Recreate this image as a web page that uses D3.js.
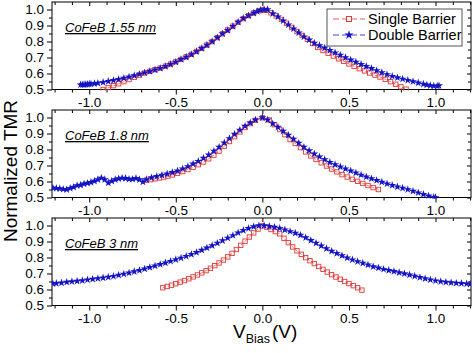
<!DOCTYPE html>
<html><head><meta charset="utf-8">
<script src="https://cdn.jsdelivr.net/npm/d3@7"></script>
<style>body{margin:0;background:#fff}svg{display:block}text{font-family:"Liberation Sans",Arial,sans-serif}</style>
</head><body><svg id="c" width="474" height="353"></svg>
<script>
// ---------- data: [bias V, normalized TMR] ----------
const panelLabels = ["CoFeB 1.55 nm", "CoFeB 1.8 nm", "CoFeB 3 nm"];
const seriesNames = ["Single Barrier", "Double Barrier"];
const xMajorTicks = [-1.0, -0.5, 0.0, 0.5, 1.0];
const xMinorTicks = [-1.2,-1.1,-0.9,-0.8,-0.7,-0.6,-0.4,-0.3,-0.2,-0.1,0.1,0.2,0.3,0.4,0.6,0.7,0.8,0.9,1.1,1.2];
const yMajorTicks = [0.5, 0.6, 0.7, 0.8, 0.9, 1.0];
const yMinorTicks = [0.55, 0.65, 0.75, 0.85, 0.95];

const single155 = [[-0.92,0.500],[-0.89,0.512],[-0.86,0.524],[-0.83,0.536],[-0.80,0.549],[-0.77,0.562],[-0.74,0.576],[-0.71,0.590],[-0.68,0.603],[-0.65,0.614],[-0.62,0.624],[-0.59,0.634],[-0.56,0.646],[-0.53,0.659],[-0.50,0.673],[-0.47,0.688],[-0.44,0.704],[-0.41,0.720],[-0.38,0.738],[-0.35,0.757],[-0.32,0.778],[-0.29,0.800],[-0.26,0.824],[-0.23,0.848],[-0.20,0.872],[-0.17,0.896],[-0.14,0.920],[-0.11,0.943],[-0.08,0.962],[-0.05,0.978],[-0.02,0.992],[0.00,0.998],[0.02,0.995],[0.05,0.980],[0.08,0.960],[0.11,0.938],[0.14,0.914],[0.17,0.888],[0.20,0.862],[0.23,0.838],[0.26,0.814],[0.29,0.788],[0.32,0.763],[0.35,0.744],[0.38,0.726],[0.41,0.709],[0.44,0.692],[0.47,0.676],[0.50,0.660],[0.53,0.645],[0.56,0.630],[0.59,0.616],[0.62,0.603],[0.65,0.590],[0.68,0.578],[0.71,0.564],[0.74,0.549],[0.77,0.533],[0.80,0.517],[0.83,0.502]];
const double155 = [[-1.05,0.530],[-1.04,0.530],[-1.03,0.531],[-1.02,0.532],[-1.01,0.533],[-1.00,0.534],[-0.99,0.535],[-0.97,0.537],[-0.95,0.540],[-0.92,0.545],[-0.89,0.551],[-0.86,0.557],[-0.83,0.564],[-0.80,0.571],[-0.77,0.579],[-0.74,0.587],[-0.71,0.596],[-0.68,0.605],[-0.65,0.614],[-0.62,0.623],[-0.59,0.633],[-0.56,0.645],[-0.53,0.658],[-0.50,0.672],[-0.47,0.688],[-0.44,0.703],[-0.41,0.719],[-0.38,0.737],[-0.35,0.757],[-0.32,0.778],[-0.29,0.800],[-0.26,0.824],[-0.23,0.849],[-0.20,0.870],[-0.17,0.895],[-0.14,0.922],[-0.11,0.945],[-0.08,0.962],[-0.05,0.978],[-0.03,0.988],[-0.01,0.996],[0.01,1.000],[0.03,1.000],[0.06,0.975],[0.09,0.955],[0.12,0.930],[0.15,0.905],[0.18,0.880],[0.21,0.855],[0.24,0.830],[0.27,0.810],[0.30,0.790],[0.33,0.775],[0.36,0.760],[0.39,0.745],[0.42,0.730],[0.45,0.715],[0.48,0.700],[0.51,0.685],[0.54,0.672],[0.57,0.658],[0.60,0.645],[0.63,0.632],[0.66,0.618],[0.69,0.606],[0.72,0.594],[0.75,0.583],[0.78,0.574],[0.81,0.566],[0.84,0.558],[0.87,0.550],[0.90,0.542],[0.93,0.534],[0.95,0.529],[0.97,0.525],[0.99,0.522],[1.01,0.522],[1.02,0.524]];

const single18 = [[-0.67,0.608],[-0.645,0.612],[-0.62,0.617],[-0.595,0.622],[-0.57,0.628],[-0.545,0.634],[-0.52,0.641],[-0.49,0.651],[-0.46,0.662],[-0.43,0.675],[-0.40,0.689],[-0.37,0.705],[-0.34,0.722],[-0.31,0.742],[-0.28,0.765],[-0.25,0.790],[-0.22,0.820],[-0.19,0.850],[-0.16,0.880],[-0.13,0.910],[-0.10,0.938],[-0.07,0.962],[-0.04,0.982],[0.00,0.998],[0.04,0.985],[0.07,0.955],[0.10,0.925],[0.13,0.893],[0.16,0.862],[0.19,0.838],[0.22,0.812],[0.25,0.785],[0.28,0.760],[0.31,0.738],[0.34,0.717],[0.37,0.697],[0.40,0.678],[0.43,0.660],[0.46,0.643],[0.49,0.628],[0.52,0.614],[0.55,0.601],[0.58,0.588],[0.61,0.575],[0.64,0.562],[0.67,0.550]];
const double18 = [[-1.21,0.560],[-1.19,0.558],[-1.17,0.556],[-1.15,0.552],[-1.13,0.550],[-1.11,0.558],[-1.09,0.565],[-1.07,0.575],[-1.05,0.578],[-1.03,0.585],[-1.01,0.590],[-0.99,0.595],[-0.97,0.603],[-0.95,0.612],[-0.93,0.622],[-0.91,0.612],[-0.89,0.592],[-0.87,0.603],[-0.85,0.612],[-0.83,0.618],[-0.81,0.622],[-0.79,0.620],[-0.77,0.615],[-0.75,0.615],[-0.73,0.620],[-0.71,0.612],[-0.69,0.598],[-0.67,0.612],[-0.64,0.624],[-0.61,0.632],[-0.58,0.640],[-0.55,0.648],[-0.52,0.657],[-0.49,0.667],[-0.46,0.680],[-0.43,0.694],[-0.40,0.710],[-0.37,0.727],[-0.34,0.746],[-0.31,0.767],[-0.28,0.790],[-0.25,0.815],[-0.22,0.842],[-0.19,0.869],[-0.16,0.896],[-0.13,0.922],[-0.10,0.946],[-0.07,0.967],[-0.04,0.985],[0.00,1.000],[0.03,0.985],[0.06,0.962],[0.09,0.940],[0.12,0.915],[0.15,0.890],[0.18,0.865],[0.21,0.840],[0.24,0.815],[0.27,0.793],[0.30,0.773],[0.33,0.755],[0.36,0.737],[0.39,0.720],[0.42,0.706],[0.45,0.692],[0.48,0.679],[0.51,0.667],[0.54,0.654],[0.57,0.641],[0.60,0.629],[0.63,0.618],[0.66,0.607],[0.69,0.597],[0.72,0.586],[0.75,0.576],[0.78,0.567],[0.81,0.559],[0.84,0.550],[0.87,0.540],[0.90,0.530],[0.93,0.520],[0.96,0.510],[0.99,0.502],[1.00,0.500]];

const single3 = [[-0.575,0.611],[-0.55,0.619],[-0.525,0.627],[-0.50,0.636],[-0.475,0.646],[-0.45,0.656],[-0.425,0.667],[-0.40,0.679],[-0.375,0.691],[-0.35,0.704],[-0.325,0.718],[-0.30,0.733],[-0.275,0.749],[-0.25,0.766],[-0.225,0.784],[-0.20,0.804],[-0.175,0.826],[-0.15,0.850],[-0.125,0.876],[-0.10,0.902],[-0.075,0.928],[-0.05,0.954],[-0.025,0.978],[0.00,0.998],[0.025,0.990],[0.05,0.975],[0.075,0.962],[0.10,0.948],[0.125,0.920],[0.15,0.893],[0.175,0.866],[0.20,0.842],[0.225,0.820],[0.25,0.799],[0.275,0.780],[0.30,0.762],[0.325,0.744],[0.35,0.726],[0.375,0.709],[0.40,0.693],[0.425,0.678],[0.45,0.664],[0.475,0.650],[0.50,0.637],[0.525,0.624],[0.55,0.611],[0.575,0.596]];
const double3 = [[-1.21,0.637],[-1.19,0.639],[-1.16,0.642],[-1.13,0.646],[-1.10,0.650],[-1.07,0.653],[-1.04,0.656],[-1.01,0.661],[-0.98,0.665],[-0.95,0.669],[-0.92,0.673],[-0.89,0.678],[-0.86,0.683],[-0.83,0.690],[-0.80,0.697],[-0.77,0.704],[-0.74,0.712],[-0.71,0.720],[-0.68,0.729],[-0.65,0.738],[-0.62,0.748],[-0.59,0.757],[-0.56,0.767],[-0.53,0.777],[-0.50,0.787],[-0.47,0.797],[-0.44,0.808],[-0.41,0.820],[-0.38,0.832],[-0.35,0.846],[-0.32,0.860],[-0.29,0.875],[-0.26,0.890],[-0.23,0.906],[-0.20,0.922],[-0.17,0.938],[-0.14,0.955],[-0.11,0.970],[-0.08,0.982],[-0.05,0.993],[-0.02,0.999],[0.01,1.000],[0.04,0.995],[0.07,0.990],[0.10,0.983],[0.13,0.973],[0.16,0.963],[0.19,0.953],[0.22,0.940],[0.25,0.924],[0.28,0.907],[0.31,0.890],[0.34,0.873],[0.37,0.856],[0.40,0.840],[0.43,0.826],[0.46,0.812],[0.49,0.798],[0.52,0.786],[0.55,0.775],[0.58,0.765],[0.61,0.754],[0.64,0.743],[0.67,0.735],[0.70,0.727],[0.73,0.720],[0.76,0.713],[0.79,0.706],[0.82,0.699],[0.85,0.692],[0.88,0.684],[0.91,0.676],[0.94,0.668],[0.97,0.661],[1.00,0.655],[1.03,0.650],[1.06,0.646],[1.09,0.643],[1.12,0.640],[1.15,0.638],[1.18,0.636],[1.20,0.634]];

// ---------- layout ----------
const svg = d3.select("#c");
const left = 52, right = 471;
const panelTops = [2, 110, 218];
const panelH = 87.5;
const red = "#dd3b3b", blue = "#1414c4";

const x = d3.scaleLinear().domain([-1.215, 1.205]).range([left, right]);
const fmt = d => d.toFixed(1);

const panels = [
  {label: panelLabels[0], single: single155, dbl: double155},
  {label: panelLabels[1], single: single18, dbl: double18},
  {label: panelLabels[2], single: single3, dbl: double3}
];

const star = d3.symbol().type(d3.symbolStar).size(20);

panels.forEach((p, i) => {
  const top = panelTops[i], bot = top + panelH;
  const y = d3.scaleLinear().domain([0.5, 1.047]).range([bot, top]);
  const g = svg.append("g");
  const clipId = "clip" + i;
  svg.append("clipPath").attr("id", clipId).append("rect")
    .attr("x", left).attr("y", top).attr("width", right - left).attr("height", panelH + 1);

  const axStyle = sel => {
    sel.select(".domain").remove();
    sel.selectAll("line").attr("stroke", "#000").attr("stroke-width", 1);
    sel.selectAll("text").attr("font-size", 13.5).attr("fill", "#000")
       .attr("font-family", "'Liberation Sans', Arial, sans-serif");
  };
  // bottom axis
  g.append("g").attr("transform", `translate(0,${bot})`)
    .call(d3.axisBottom(x).tickValues(xMajorTicks).tickSize(5).tickPadding(3).tickFormat(fmt)).call(axStyle);
  g.append("g").attr("transform", `translate(0,${bot})`)
    .call(d3.axisBottom(x).tickValues(xMinorTicks).tickSize(3).tickFormat("")).call(axStyle);
  // top axis (inward)
  g.append("g").attr("transform", `translate(0,${top})`)
    .call(d3.axisTop(x).tickValues(xMajorTicks).tickSize(-4).tickFormat("")).call(axStyle);
  g.append("g").attr("transform", `translate(0,${top})`)
    .call(d3.axisTop(x).tickValues(xMinorTicks).tickSize(-3).tickFormat("")).call(axStyle);
  // left axis
  g.append("g").attr("transform", `translate(${left},0)`)
    .call(d3.axisLeft(y).tickValues(yMajorTicks).tickSize(5).tickPadding(3).tickFormat(fmt)).call(axStyle);
  g.append("g").attr("transform", `translate(${left},0)`)
    .call(d3.axisLeft(y).tickValues(yMinorTicks).tickSize(3).tickFormat("")).call(axStyle);
  // right axis (inward)
  g.append("g").attr("transform", `translate(${right},0)`)
    .call(d3.axisRight(y).tickValues(yMajorTicks).tickSize(-4).tickFormat("")).call(axStyle);
  g.append("g").attr("transform", `translate(${right},0)`)
    .call(d3.axisRight(y).tickValues(yMinorTicks).tickSize(-3).tickFormat("")).call(axStyle);

  // frame
  g.append("rect").attr("x", left).attr("y", top).attr("width", right - left).attr("height", panelH)
    .attr("fill", "none").attr("stroke", "#000").attr("stroke-width", 1);

  const line = d3.line().x(d => x(d[0])).y(d => y(d[1]));
  const plot = g.append("g").attr("clip-path", `url(#${clipId})`);

  plot.append("path").datum(p.single).attr("d", line).attr("fill", "none")
    .attr("stroke", red).attr("stroke-width", 0.7).attr("stroke-dasharray", "3,2");
  plot.append("path").datum(p.dbl).attr("d", line).attr("fill", "none")
    .attr("stroke", blue).attr("stroke-width", 0.7).attr("stroke-dasharray", "3,2");

  plot.selectAll(".sq").data(p.single).enter().append("rect")
    .attr("x", d => x(d[0]) - 2.2).attr("y", d => y(d[1]) - 2.2).attr("width", 4.4).attr("height", 4.4)
    .attr("fill", "none").attr("stroke", red).attr("stroke-width", 0.9);
  plot.selectAll(".st").data(p.dbl).enter().append("path")
    .attr("d", star).attr("transform", d => `translate(${x(d[0])},${y(d[1])})`)
    .attr("fill", blue);

  // panel label (italic, underlined)
  g.append("text").attr("x", 65).attr("y", top + 30)
    .attr("font-size", 13).attr("font-style", "italic")
    .attr("text-decoration", "underline").text(p.label);

  if (i === 0) {
    const lg = g.append("g");
    lg.append("rect").attr("x", 327).attr("y", 9).attr("width", 135).attr("height", 37)
      .attr("fill", "#fff").attr("stroke", "#555").attr("stroke-width", 1);
    const rows = [{name: seriesNames[0], c: red, k: "sq", yy: 19}, {name: seriesNames[1], c: blue, k: "st", yy: 35}];
    rows.forEach(r => {
      lg.append("line").attr("x1", 333).attr("x2", 365).attr("y1", r.yy).attr("y2", r.yy)
        .attr("stroke", r.c).attr("stroke-width", 0.8).attr("stroke-dasharray", "6,3");
      if (r.k === "sq") {
        lg.append("rect").attr("x", 346.5).attr("y", r.yy - 2.5).attr("width", 5).attr("height", 5)
          .attr("fill", "#fff").attr("stroke", r.c).attr("stroke-width", 1);
      } else {
        lg.append("path").attr("d", d3.symbol().type(d3.symbolStar).size(26)())
          .attr("transform", `translate(349,${r.yy})`).attr("fill", r.c);
      }
      lg.append("text").attr("x", 368).attr("y", r.yy + 5).attr("font-size", 14.5).text(r.name);
    });
  }
});

// axis titles
svg.append("text").attr("transform", "translate(17,171) rotate(-90)")
  .attr("text-anchor", "middle").attr("font-size", 19).text("Normalized TMR");

const xt = svg.append("text").attr("x", 233).attr("y", 338).attr("font-size", 19);
xt.append("tspan").text("V");
xt.append("tspan").attr("font-size", 12.5).attr("dy", 5).text("Bias");
xt.append("tspan").attr("dy", -5).attr("dx", 2).text("(V)");
</script></body></html>
